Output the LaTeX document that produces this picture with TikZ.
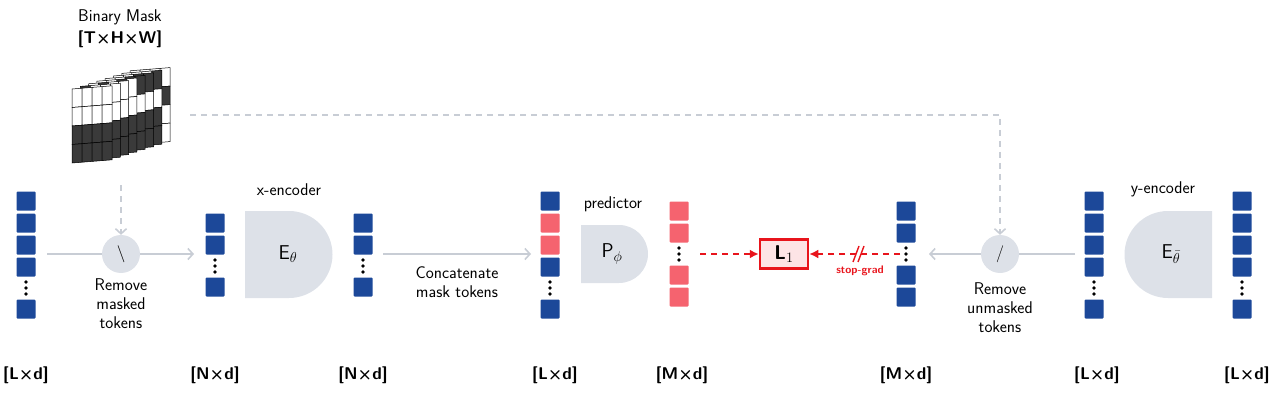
\documentclass[tikz,border=0pt]{standalone}
\usepackage{fontspec}
\usetikzlibrary{arrows.meta}
\begin{document}
\definecolor{tb}{HTML}{1C4899}
\definecolor{tr}{HTML}{F5636F}
\definecolor{sh}{HTML}{DDE1E8}
\definecolor{ln}{HTML}{C8CDD5}
\definecolor{rd}{HTML}{E8141C}
\definecolor{pk}{HTML}{FDE4E6}
\definecolor{dk}{HTML}{3A3A3A}
\begin{tikzpicture}[x=1pt,y=-1pt,font=\sffamily\fontsize{17}{19}\selectfont,
  tok/.style={fill=#1,draw=none,minimum size=19pt,inner sep=0pt,rounded corners=1pt},
  tok/.default=tb,
  dot/.style={fill=black,circle,inner sep=0pt,minimum size=3.6pt},
  gl/.style={draw=ln,line width=1.6pt},
  garr/.style={gl,-{Straight Barb[length=5pt,width=11pt]}},
  gdash/.style={draw=ln,line width=1.6pt,dash pattern=on 6pt off 5pt},
  op/.style={circle,fill=sh,minimum size=38pt,inner sep=0pt},
  dim/.style={font=\sffamily\bfseries\fontsize{17}{19}\selectfont},
  rarr/.style={draw=rd,line width=2.2pt,dash pattern=on 6pt off 5pt,-{Latex[length=9pt,width=9pt]}},
  cell/.style={draw=black,line width=0.5pt}]
\path[use as bounding box] (0,0) rectangle (1280,401);

% title
\node (bm) at (120,17) {Binary Mask};
\node[dim] (thw) at (120,39) {[T×H×W]};

% mask stack
\foreach \i/\pat in {7/{0,0,0,0, 0,0,0,1, 0,0,0,0, 0,0,0,0},
                     6/{0,0,0,1, 0,0,0,0, 0,0,0,1, 0,0,0,1},
                     5/{0,0,1,1, 0,0,0,0, 0,0,0,1, 0,0,1,1},
                     4/{0,0,1,1, 0,0,0,0, 0,1,1,1, 0,1,1,1},
                     3/{0,0,1,0, 0,0,0,0, 1,1,1,1, 1,1,1,1},
                     2/{0,1,0,0, 0,0,0,0, 1,1,1,1, 1,1,1,1},
                     1/{1,0,0,0, 0,0,0,0, 1,1,1,1, 1,1,1,1},
                     0/{0,0,0,0, 0,0,0,0, 1,1,1,1, 1,1,1,1}}{
  \begin{scope}[shift={(72+8.3*\i,89-2.6*\i)}]
  \foreach [count=\k from 0] \v in \pat {
    \pgfmathtruncatemacro{\r}{int(\k/4)}
    \pgfmathtruncatemacro{\c}{mod(\k,4)}
    \ifnum\v=1 \def\fc{dk}\else\def\fc{white}\fi
    \filldraw[cell,fill=\fc] (\c*10,\r*18.5-\c*0.8) -- (\c*10+10,\r*18.5-\c*0.8-0.8) -- (\c*10+10,\r*18.5+18.5-\c*0.8-0.8) -- (\c*10,\r*18.5+18.5-\c*0.8) -- cycle;
  }
  \end{scope}
}
\coordinate (mr) at (190,115);
\coordinate (mb) at (121,185);
\coordinate (mc) at (1000,115);

% column 1
\foreach \y [count=\n] in {201,223,245,267} \node[tok] (a\n) at (26,\y) {};
\foreach \y in {282,288,294} \node[dot] at (26,\y) {};
\node[tok] (a5) at (26,309) {};
\node[dim] (da) at (26,375) {[L×d]};

% remove masked
\node[op] (c1) at (121,254) {\textbackslash};
\node[align=center,anchor=north] (c1t) at (121,275) {Remove\\masked\\tokens};
\coordinate (s1) at (47,254);
\coordinate (e1) at (194,254);
\draw[gl] (s1) -- (c1);
\draw[garr] (c1) -- (e1);
\draw[gdash,-{Straight Barb[length=5pt,width=11pt]}] (mb) -- (c1);

% column 2
\node[tok] (b1) at (215,223) {};
\node[tok] (b2) at (215,245) {};
\foreach \y in {260,266,272} \node[dot] at (215,\y) {};
\node[tok] (b3) at (215,287) {};
\node[dim] (db) at (215,375) {[N×d]};

% x-encoder
\fill[sh] (245,211) -- (289,211) arc[start angle=-90,end angle=90,radius=43.5] -- (245,298) -- cycle;
\node (xe) at (288,254) {\fontsize{20}{22}\selectfont E$_\theta$};
\node (xel) at (289,190) {x-encoder};

% column 3
\node[tok] (c31) at (363,223) {};
\node[tok] (c32) at (363,245) {};
\foreach \y in {260,266,272} \node[dot] at (363,\y) {};
\node[tok] (c33) at (363,287) {};
\node[dim] (dc) at (363,375) {[N×d]};

\coordinate (s2) at (383,254);
\coordinate (e2) at (531,254);
\draw[garr] (s2) -- (e2);
\node[align=center,anchor=north] (cat) at (457,263) {Concatenate\\mask tokens};

% column 4
\node[tok] (d1) at (550,201) {};
\node[tok=tr] (d2) at (550,223) {};
\node[tok=tr] (d3) at (550,245) {};
\node[tok] (d4) at (550,267) {};
\foreach \y in {282,288,294} \node[dot] at (550,\y) {};
\node[tok] (d5) at (550,309) {};
\node[dim] (dd) at (555,375) {[L×d]};

% predictor
\fill[sh] (581,225) -- (619,225) arc[start angle=-90,end angle=90,radius=29] -- (581,283) -- cycle;
\node (pp) at (612,254) {\fontsize{20}{22}\selectfont P$_\phi$};
\node (ppl) at (613,204) {predictor};

% column 5 red
\node[tok=tr] (f1) at (679,211) {};
\node[tok=tr] (f2) at (679,233) {};
\foreach \y in {248,254,260} \node[dot] at (679,\y) {};
\node[tok=tr] (f3) at (679,275) {};
\node[tok=tr] (f4) at (679,297) {};
\node[dim] (df) at (682,375) {[M×d]};

% loss
\node[draw=rd,line width=2.5pt,fill=pk,minimum width=48pt,minimum height=29pt,font=\sffamily\fontsize{20}{22}\selectfont] (L) at (784,254) {\textbf{L}$_1$};
\coordinate (s3) at (700,254);
\coordinate (s4) at (900,254);
\draw[rarr] (s3) -- (L);
\draw[rarr] (s4) -- (L);
\draw[rd,line width=1.4pt] (853,262) -- (859,246) (858,262) -- (864,246);
\node[text=rd,font=\sffamily\bfseries\fontsize{11}{13}\selectfont] (sg) at (860,271) {stop-grad};

% column 6
\node[tok] (g1) at (906,211) {};
\node[tok] (g2) at (906,233) {};
\foreach \y in {248,254,260} \node[dot] at (906,\y) {};
\node[tok] (g3) at (906,275) {};
\node[tok] (g4) at (906,297) {};
\node[dim] (dg) at (906,375) {[M×d]};

% remove unmasked
\node[op] (c2) at (1000,254) {/};
\node[align=center,anchor=north] (c2t) at (1000,279) {Remove\\unmasked\\tokens};
\coordinate (s5) at (1075,254);
\coordinate (e5) at (929,254);
\draw[gl] (s5) -- (c2);
\draw[garr] (c2) -- (e5);
\draw[gdash,-{Straight Barb[length=5pt,width=11pt]}] (mr) -- (mc) -- (c2);

% column 7
\foreach \y [count=\n] in {201,223,245,267} \node[tok] (h\n) at (1094,\y) {};
\foreach \y in {282,288,294} \node[dot] at (1094,\y) {};
\node[tok] (h5) at (1094,309) {};
\node[dim] (dh) at (1097,375) {[L×d]};

% y-encoder
\fill[sh] (1212,211) -- (1168,211) arc[start angle=270,end angle=90,radius=43.5] -- (1212,298) -- cycle;
\node (ye) at (1171,254) {\fontsize{20}{22}\selectfont E$_{\bar\theta}$};
\node (yel) at (1163,189) {y-encoder};

% column 8
\foreach \y [count=\n] in {201,223,245,267} \node[tok] (k\n) at (1242,\y) {};
\foreach \y in {282,288,294} \node[dot] at (1242,\y) {};
\node[tok] (k5) at (1242,309) {};
\node[dim] (dk) at (1247,375) {[L×d]};
\end{tikzpicture}
\end{document}
